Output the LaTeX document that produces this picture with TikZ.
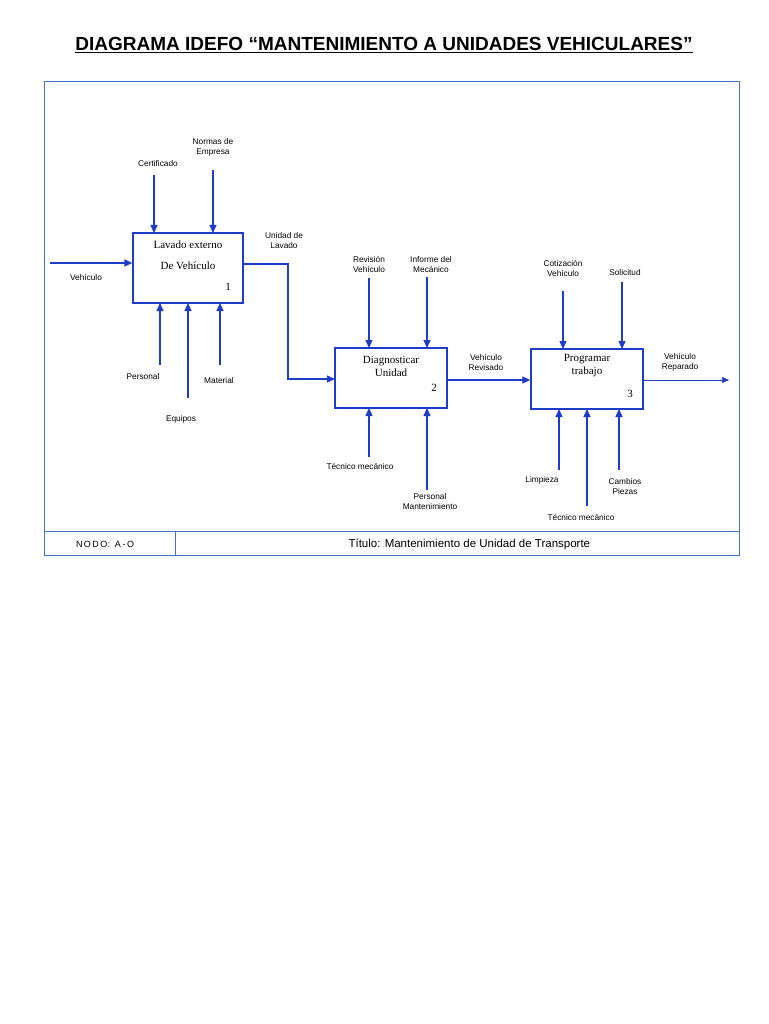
\documentclass[tikz,border=0pt]{standalone}
\usepackage{fontspec}
\setmainfont{Liberation Serif}
\newfontfamily\lab{Liberation Sans}
\usetikzlibrary{arrows.meta}
\definecolor{flow}{RGB}{30,60,200}
\definecolor{frame}{RGB}{68,114,196}
\begin{document}
\begin{tikzpicture}[x=1pt,y=-1pt,
  box/.style={draw=flow,line width=1.3pt,minimum width=110pt,minimum height=60pt,inner sep=0pt},
  arr/.style={draw=flow,line width=1.2pt,-{Triangle[length=8pt,width=7pt]}},
  lbl/.style={font=\lab\fontsize{8.3}{10}\selectfont,align=center,inner sep=1pt},
  btxt/.style={font=\fontsize{11}{13}\selectfont,align=center,inner sep=0pt},
  num/.style={font=\fontsize{11}{13}\selectfont,inner sep=0pt}]
\useasboundingbox (0,0) rectangle (768,1024);
\fill[white] (0,0) rectangle (768,1024);
% title
\node[font=\lab\bfseries\fontsize{19}{22}\selectfont] (title) at (384,45) {\underline{DIAGRAMA IDEFO “MANTENIMIENTO A UNIDADES VEHICULARES”}};
% frame
\draw[frame,line width=1pt] (44,82) rectangle (739,555);
\draw[frame,line width=1pt] (44,531) -- (739,531) (175,531) -- (175,555);
\node[font=\lab\fontsize{9}{11}\selectfont] (nodo) at (105,544) {N\,O\,D\,O:\ \ A\,-\,O};
\node[font=\lab\fontsize{11.5}{13}\selectfont,anchor=west] (tit) at (345,544) {Título: Mantenimiento de Unidad de Transporte};
% boxes
\node[box,minimum width=110pt,minimum height=70pt] (b1) at (188,268) {};
\node[btxt] at (188,245) {Lavado externo};
\node[btxt] at (188,266) {De Vehículo};
\node[num] at (228,287) {1};
\node[box,minimum width=112pt] (b2) at (391,378) {};
\node[btxt] at (391,366) {Diagnosticar\\Unidad};
\node[num] at (434,388) {2};
\node[box,minimum width=112pt] (b3) at (587,379) {};
\node[btxt] at (587,366) {Programar\\trabajo};
\node[num] at (630,394) {3};
% box 1 arrows
\coordinate (in1) at (50,263);
\draw[arr] (in1) -- (b1.west |- in1);
\node[lbl] (l1) at (86,277) {Vehículo};
\node[lbl] (cert) at (158,164) {Certificado};
\draw[arr] (154,175) -- (154,233);
\node[lbl] (norm) at (213,147) {Normas de\\Empresa};
\draw[arr] (213,170) -- (213,233);
\draw[arr] (160,365) -- (160,303);
\node[lbl] (pers) at (143,377) {Personal};
\draw[arr] (188,398) -- (188,303);
\node[lbl] (equi) at (181,419) {Equipos};
\draw[arr] (220,365) -- (220,303);
\node[lbl] (mat) at (219,381) {Material};
\draw[arr] (243,264) -- (288,264) -- (288,379) -- (335,379);
\node[lbl] (ulav) at (284,241) {Unidad de\\Lavado};
% box 2 arrows
\node[lbl] (rev) at (369,264) {Revisión\\Vehículo};
\draw[arr] (369,278) -- (369,348);
\node[lbl] (inf) at (431,265) {Informe del\\Mecánico};
\draw[arr] (427,277) -- (427,348);
\draw[arr] (369,457) -- (369,408);
\node[lbl] (tec1) at (360,466) {Técnico mecánico};
\draw[arr] (427,490) -- (427,408);
\node[lbl] (pman) at (430,502) {Personal\\Mantenimiento};
\draw[arr] (b2.east |- 0,380) -- (b3.west |- 0,380);
\node[lbl] (vrev) at (486,362) {Vehículo\\Revisado};
% box 3 arrows
\node[lbl] (cot) at (563,268) {Cotización\\Vehículo};
\draw[arr] (563,291) -- (563,349);
\node[lbl] (sol) at (625,273) {Solicitud};
\draw[arr] (622,282) -- (622,349);
\draw[arr] (559,470) -- (559,409);
\node[lbl] (limp) at (542,480) {Limpieza};
\draw[arr] (587,506) -- (587,409);
\node[lbl] (tec2) at (581,517) {Técnico mecánico};
\draw[arr] (619,470) -- (619,409);
\node[lbl] (camb) at (625,487) {Cambios\\Piezas};
\coordinate (out3) at (729,380);
\draw[arr,line width=0.5pt,-{Triangle[length=7pt,width=6pt]}] (b3.east |- out3) -- (out3);
\node[lbl] (vrep) at (680,362) {Vehículo\\Reparado};
\end{tikzpicture}
\end{document}
